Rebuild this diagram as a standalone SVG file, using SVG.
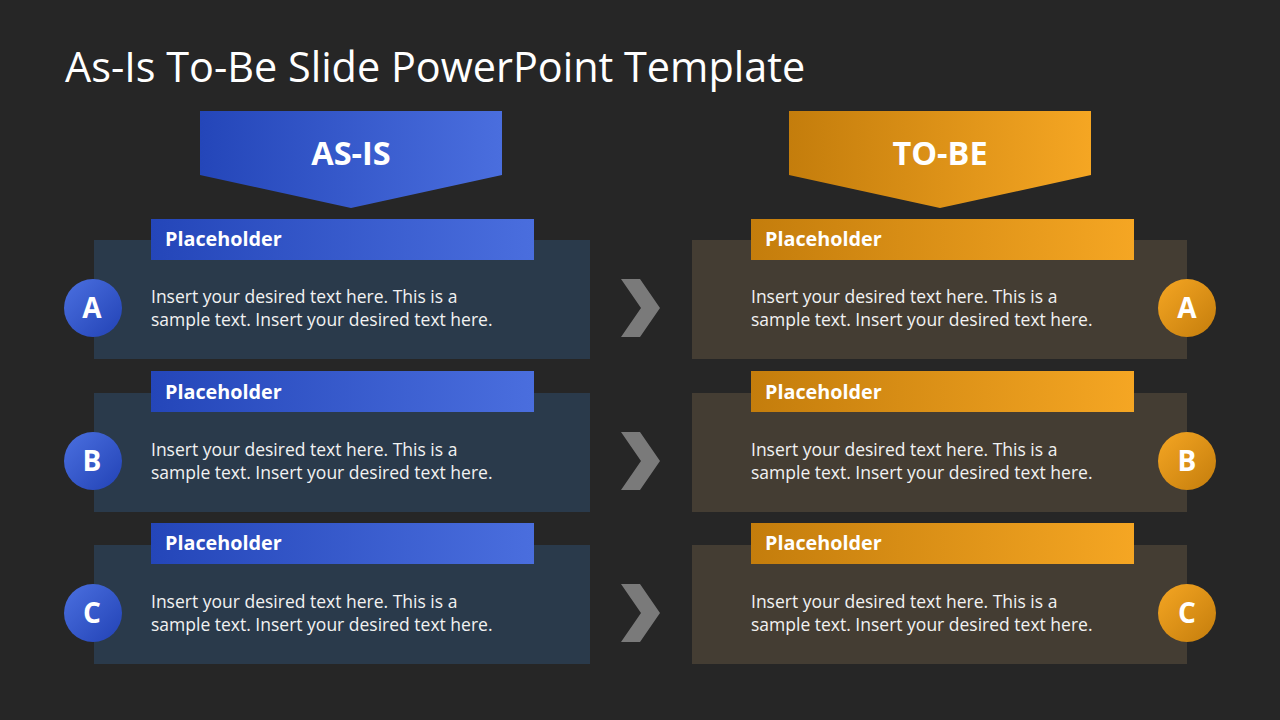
<svg xmlns="http://www.w3.org/2000/svg" width="1280" height="720" viewBox="0 0 1280 720">
<defs>
<linearGradient id="gBlue" x1="0" y1="0" x2="1" y2="0"><stop offset="0" stop-color="#2446b9"/><stop offset="1" stop-color="#4a6ede"/></linearGradient>
<linearGradient id="gOrange" x1="0" y1="0" x2="1" y2="0"><stop offset="0" stop-color="#c47d0c"/><stop offset="1" stop-color="#f5a623"/></linearGradient>
<linearGradient id="gBlueC" x1="0" y1="0" x2="1" y2="1"><stop offset="0" stop-color="#4b70e0"/><stop offset="1" stop-color="#2242b5"/></linearGradient>
<linearGradient id="gOrangeC" x1="0" y1="0" x2="1" y2="1"><stop offset="0" stop-color="#f5a623"/><stop offset="1" stop-color="#c47d0c"/></linearGradient>
<path id="chev" d="M0,0 H19 L39,29 L19,58 H0 L20,29 Z"/>
</defs>
<style>
.title{font-family:"Open Sans","Noto Sans",sans-serif;font-size:41.4px;fill:#ffffff}
.hdr{font-family:"Open Sans","Noto Sans",sans-serif;font-weight:bold;font-size:32.5px;fill:#ffffff}
.ph{font-family:"Open Sans","Noto Sans",sans-serif;font-weight:bold;font-size:19.8px;fill:#ffffff}
.body{font-family:"Open Sans","Noto Sans",sans-serif;font-size:17.5px;fill:#f2f2f2}
.let{font-family:"Open Sans","Noto Sans",sans-serif;font-weight:bold;font-size:28px;fill:#ffffff}
.pl{fill:#2a3a4b}
.pr{fill:#443d33}
.chev{fill:#7a7a7a}
</style>
<rect width="1280" height="720" fill="#262626"/>
<text class="title" x="65" y="82">As-Is To-Be Slide PowerPoint Template</text>

<g id="header-asis">
<polygon points="200,111 502,111 502,175 351,208 200,175" fill="url(#gBlue)"/>
<text class="hdr" x="351" y="165" text-anchor="middle">AS-IS</text>
</g>
<g id="header-tobe">
<polygon points="789,111 1091,111 1091,175 940,208 789,175" fill="url(#gOrange)"/>
<text class="hdr" x="940" y="165" text-anchor="middle">TO-BE</text>
</g>

<g id="asis-a">
<rect class="pl" x="94" y="240" width="496" height="119"/>
<rect x="151" y="219" width="383" height="41" fill="url(#gBlue)"/>
<text class="ph" x="165" y="246">Placeholder</text>
<text class="body" x="151" y="303">Insert your desired text here. This is a</text>
<text class="body" x="151" y="326">sample text. Insert your desired text here.</text>
<circle cx="93" cy="308" r="29" fill="url(#gBlueC)"/>
<text class="let" x="92" y="318" text-anchor="middle">A</text>
</g>
<g id="asis-b">
<rect class="pl" x="94" y="393" width="496" height="119"/>
<rect x="151" y="371" width="383" height="41" fill="url(#gBlue)"/>
<text class="ph" x="165" y="399">Placeholder</text>
<text class="body" x="151" y="456">Insert your desired text here. This is a</text>
<text class="body" x="151" y="479">sample text. Insert your desired text here.</text>
<circle cx="93" cy="461" r="29" fill="url(#gBlueC)"/>
<text class="let" x="92" y="471" text-anchor="middle">B</text>
</g>
<g id="asis-c">
<rect class="pl" x="94" y="545" width="496" height="119"/>
<rect x="151" y="523" width="383" height="41" fill="url(#gBlue)"/>
<text class="ph" x="165" y="550">Placeholder</text>
<text class="body" x="151" y="608">Insert your desired text here. This is a</text>
<text class="body" x="151" y="631">sample text. Insert your desired text here.</text>
<circle cx="93" cy="613" r="29" fill="url(#gBlueC)"/>
<text class="let" x="92" y="623" text-anchor="middle">C</text>
</g>

<g id="tobe-a">
<rect class="pr" x="692" y="240" width="495" height="119"/>
<rect x="751" y="219" width="383" height="41" fill="url(#gOrange)"/>
<text class="ph" x="765" y="246">Placeholder</text>
<text class="body" x="751" y="303">Insert your desired text here. This is a</text>
<text class="body" x="751" y="326">sample text. Insert your desired text here.</text>
<circle cx="1187" cy="308" r="29" fill="url(#gOrangeC)"/>
<text class="let" x="1187" y="318" text-anchor="middle">A</text>
</g>
<g id="tobe-b">
<rect class="pr" x="692" y="393" width="495" height="119"/>
<rect x="751" y="371" width="383" height="41" fill="url(#gOrange)"/>
<text class="ph" x="765" y="399">Placeholder</text>
<text class="body" x="751" y="456">Insert your desired text here. This is a</text>
<text class="body" x="751" y="479">sample text. Insert your desired text here.</text>
<circle cx="1187" cy="461" r="29" fill="url(#gOrangeC)"/>
<text class="let" x="1187" y="471" text-anchor="middle">B</text>
</g>
<g id="tobe-c">
<rect class="pr" x="692" y="545" width="495" height="119"/>
<rect x="751" y="523" width="383" height="41" fill="url(#gOrange)"/>
<text class="ph" x="765" y="550">Placeholder</text>
<text class="body" x="751" y="608">Insert your desired text here. This is a</text>
<text class="body" x="751" y="631">sample text. Insert your desired text here.</text>
<circle cx="1187" cy="613" r="29" fill="url(#gOrangeC)"/>
<text class="let" x="1187" y="623" text-anchor="middle">C</text>
</g>

<g id="connectors">
<use href="#chev" class="chev" x="621" y="279"/>
<use href="#chev" class="chev" x="621" y="432"/>
<use href="#chev" class="chev" x="621" y="584"/>
</g>
</svg>
